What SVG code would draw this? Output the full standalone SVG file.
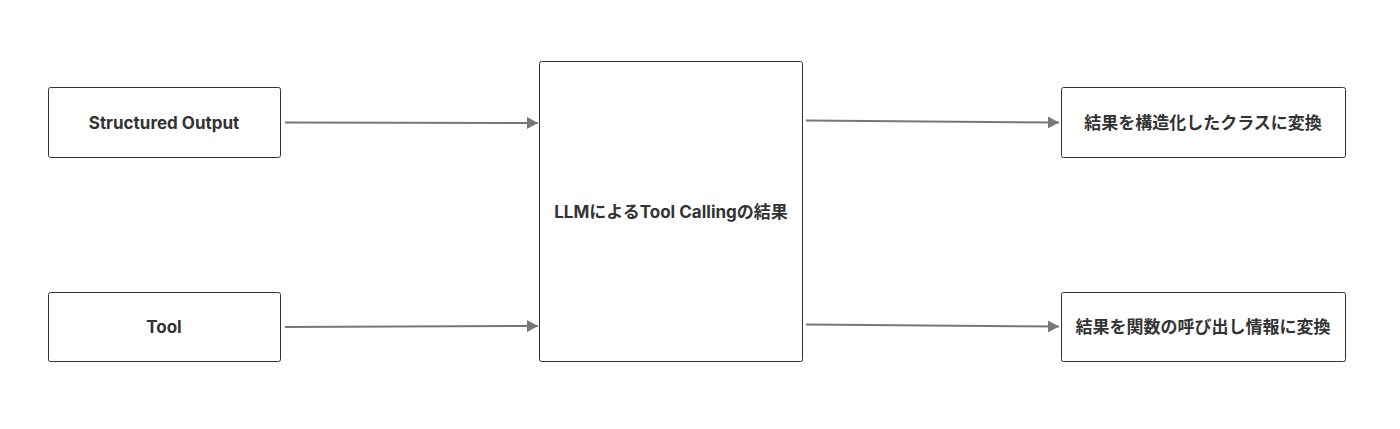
<svg xmlns="http://www.w3.org/2000/svg" width="1400" height="429" viewBox="0 0 1400 429">
<style>
.box{fill:#ffffff;stroke:#333333;stroke-width:1;}
.lbl{font-family:Inter,"Noto Sans CJK JP",sans-serif;font-size:17px;font-weight:700;fill:#333333;text-anchor:middle;dominant-baseline:central;}
.edge{fill:none;stroke:#777777;stroke-width:2;}
</style>
<defs>
<marker id="arr" viewBox="0 0 11 12" refX="11" refY="6" markerWidth="11" markerHeight="12" markerUnits="userSpaceOnUse" orient="auto">
<path d="M0,0 L11,6 L0,12 Z" fill="#777777"/>
</marker>
</defs>
<rect width="1400" height="429" fill="#ffffff"/>
<g id="connectors">
<path class="edge" d="M285,122.5 L538,123" marker-end="url(#arr)"/>
<path class="edge" d="M285,327 L538,326" marker-end="url(#arr)"/>
<path class="edge" d="M806,120.5 L1059,122.5" marker-end="url(#arr)"/>
<path class="edge" d="M806,324.5 L1059,326.5" marker-end="url(#arr)"/>
</g>
<g id="structured-output">
<rect class="box" x="48.5" y="87.5" width="232" height="70" rx="2"/>
<text class="lbl" x="164" y="123">Structured Output</text>
</g>
<g id="tool">
<rect class="box" x="48.5" y="292.5" width="232" height="69" rx="2"/>
<text class="lbl" x="164" y="327">Tool</text>
</g>
<g id="llm">
<rect class="box" x="539.5" y="61.5" width="263" height="300" rx="2"/>
<text class="lbl" x="671" y="212">LLMによるTool Callingの結果</text>
</g>
<g id="class-result">
<rect class="box" x="1061.5" y="87.5" width="284" height="70" rx="2"/>
<text class="lbl" x="1203" y="123">結果を構造化したクラスに変換</text>
</g>
<g id="func-result">
<rect class="box" x="1061.5" y="292.5" width="284" height="69" rx="2"/>
<text class="lbl" x="1203" y="327">結果を関数の呼び出し情報に変換</text>
</g>
</svg>
